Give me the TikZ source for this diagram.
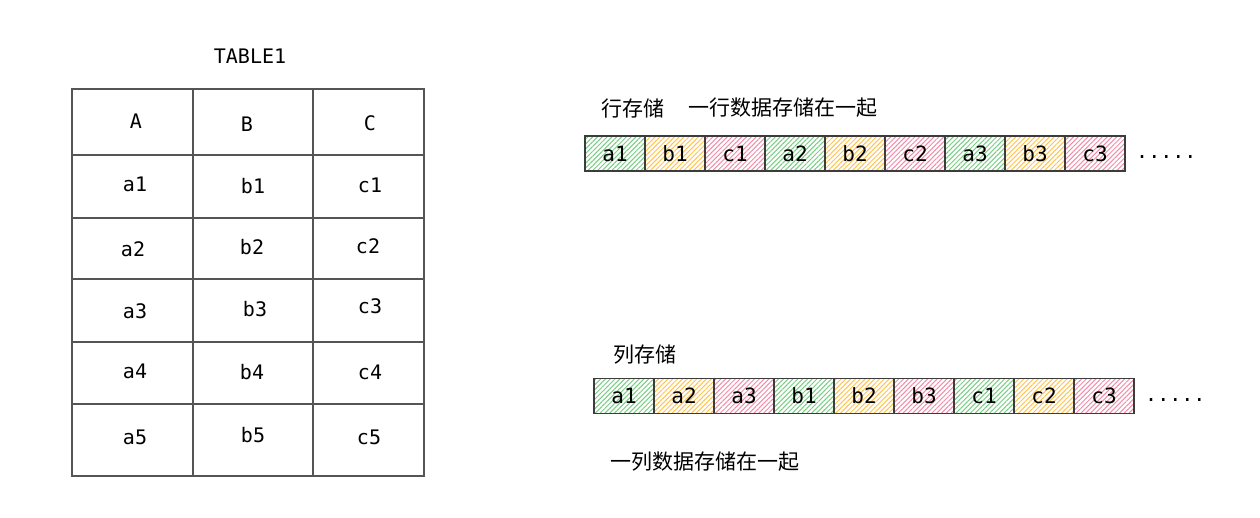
\documentclass[tikz,border=0pt]{standalone}
\usepackage{fontspec}
\setmonofont{DejaVu Sans Mono}
\newfontfamily\cjk{Noto Sans CJK SC}
\usepackage{tikz}
\usetikzlibrary{positioning, patterns.meta}
\definecolor{mygray}{RGB}{85,85,85}
\definecolor{mydark}{RGB}{60,60,60}
\definecolor{hatchgreen}{RGB}{120,205,130}
\definecolor{hatchamber}{RGB}{255,195,80}
\definecolor{hatchpink}{RGB}{240,140,170}
\tikzset{
  cell/.style={font=\fontsize{20}{24}\selectfont\ttfamily, inner sep=0pt},
  grid/.style={draw=mygray, line width=1.3pt},
  cjklabel/.style={font=\fontsize{21}{25}\selectfont\cjk, inner sep=0pt},
  store/.style={rectangle, draw=mydark, line width=1.4pt,
    minimum width=60pt, minimum height=35pt, inner sep=0pt, outer sep=0pt,
    font=\fontsize{21}{25}\selectfont\ttfamily},
  sgreen/.style={store, pattern={Lines[angle=45,distance=3.4pt,line width=1pt]}, pattern color=hatchgreen},
  samber/.style={store, pattern={Lines[angle=45,distance=3.4pt,line width=1pt]}, pattern color=hatchamber},
  spink/.style={store, pattern={Lines[angle=45,distance=3.4pt,line width=1pt]}, pattern color=hatchpink}
}

\begin{document}
\begin{tikzpicture}[x=1pt, y=-1pt]
  \useasboundingbox (0,0) rectangle (1260,518);

  % Table
  \node[cell] (title) at (250,56) {TABLE1};
  \draw[grid] (72,89) rectangle (424,476);
  \draw[grid] (193,89) -- (193,476);
  \draw[grid] (313,89) -- (313,476);
  \foreach \y in {155,218,279,342,404}
    \draw[grid] (72,\y) -- (424,\y);

  \node[cell] (hA) at (136,121) {A};
  \node[cell] (hB) at (247,124) {B};
  \node[cell] (hC) at (370,123) {C};
  \node[cell] (ta1) at (135,184) {a1};
  \node[cell] (tb1) at (253,186) {b1};
  \node[cell] (tc1) at (370,185) {c1};
  \node[cell] (ta2) at (133,249) {a2};
  \node[cell] (tb2) at (252,247) {b2};
  \node[cell] (tc2) at (368,246) {c2};
  \node[cell] (ta3) at (135,311) {a3};
  \node[cell] (tb3) at (255,309) {b3};
  \node[cell] (tc3) at (370,306) {c3};
  \node[cell] (ta4) at (135,371) {a4};
  \node[cell] (tb4) at (252,372) {b4};
  \node[cell] (tc4) at (370,372) {c4};
  \node[cell] (ta5) at (135,437) {a5};
  \node[cell] (tb5) at (253,435) {b5};
  \node[cell] (tc5) at (369,437) {c5};

  % Row storage
  \node[cjklabel] (rowlbl) at (633,109) {行存储};
  \node[cjklabel] (rownote) at (783,108) {一行数据存储在一起};
  \node[sgreen] (ra1) at (615,153.5) {a1};
  \node[samber, right=0pt of ra1] (rb1) {b1};
  \node[spink, right=0pt of rb1] (rc1) {c1};
  \node[sgreen, right=0pt of rc1] (ra2) {a2};
  \node[samber, right=0pt of ra2] (rb2) {b2};
  \node[spink, right=0pt of rb2] (rc2) {c2};
  \node[sgreen, right=0pt of rc2] (ra3) {a3};
  \node[samber, right=0pt of ra3] (rb3) {b3};
  \node[spink, right=0pt of rb3] (rc3) {c3};
  \node[cell, anchor=base west] (rdots) at ([xshift=11pt, yshift=-5pt]rc3.east) {.....};

  % Column storage
  \node[cjklabel] (collbl) at (645,355) {列存储};
  \node[sgreen] (ca1) at (624,396) {a1};
  \node[samber, right=0pt of ca1] (ca2) {a2};
  \node[spink, right=0pt of ca2] (ca3) {a3};
  \node[sgreen, right=0pt of ca3] (cb1) {b1};
  \node[samber, right=0pt of cb1] (cb2) {b2};
  \node[spink, right=0pt of cb2] (cb3) {b3};
  \node[sgreen, right=0pt of cb3] (cc1) {c1};
  \node[samber, right=0pt of cc1] (cc2) {c2};
  \node[spink, right=0pt of cc2] (cc3) {c3};
  \node[cell, anchor=base west] (cdots) at ([xshift=11pt, yshift=-5pt]cc3.east) {.....};
  \node[cjklabel] (colnote) at (705,462) {一列数据存储在一起};
\end{tikzpicture}
\end{document}
